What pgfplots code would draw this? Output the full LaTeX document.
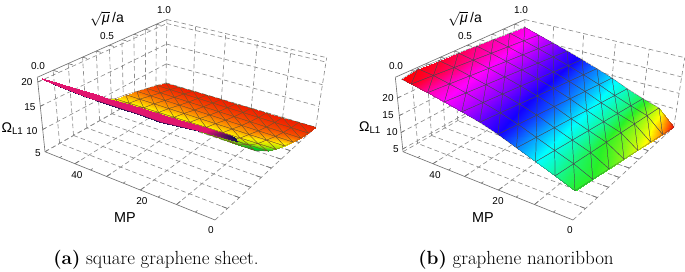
\documentclass[border=0pt]{standalone}
\usepackage{pgfplots}
\usepackage{pgfplotstable}
\usepackage{fontspec}
\pgfplotsset{compat=1.18}
\newfontfamily\hel{Liberation Sans}
\pgfplotsset{
 colormap={hueB}{rgb255(0)=(255,0,0) rgb255(1)=(255,255,0) rgb255(2)=(40,240,40) rgb255(3)=(0,255,255) rgb255(4)=(20,0,255) rgb255(5)=(255,0,255) rgb255(6)=(255,0,0)},
 colormap={hueA}{rgb255(0)=(240,30,0) rgb255(7)=(250,110,0) rgb255(16)=(255,235,0) rgb255(25)=(170,230,0) rgb255(33)=(0,200,40) rgb255(50)=(0,90,110) rgb255(66)=(15,15,80) rgb255(85)=(225,20,110) rgb255(100)=(225,20,110)},
 colormap={mkA}{rgb255(0)=(120,80,40) rgb255(1)=(120,80,40)},
 colormap={mkB}{rgb255(0)=(70,70,80) rgb255(1)=(70,70,80)},
 dsh/.style={color=black!45,line width=.65pt,dash pattern=on 4.5pt off 3pt,mark=none},
 sol/.style={color=black!55,line width=.65pt,mark=none},
 panel/.style={at={(0,0)},anchor=south west,scale only axis,width=685pt,height=271pt,xmin=0,xmax=685,ymin=0,ymax=271,hide axis,clip=false,point meta min=0,point meta max=1}
}
% perspective projection of the box (mu, MP, Omega) to page position
\newcommand\WW{((\thisrow{O}-\omin)/(\omax-\omin))}
\newcommand\DEN{(1+.27476*\thisrow{mu}+.17217*\thisrow{MP}/50-.07965*\WW)}
\newcommand\PX{\xo+(215+187.44*\thisrow{mu}-162.25*\thisrow{MP}/50-12*\WW)/\DEN}
\newcommand\PY{271-(220-57.72*\thisrow{mu}-42.18*\thisrow{MP}/50-93.37*\WW)/\DEN}
\newcommand\seg[7]{\addplot[#7] table[row sep=\\,x expr=\PX,y expr=\PY]{mu MP O\\#1 #2 #3\\#4 #5 #6\\};}
\newcommand\lab[4]{\node[font=\hel\fontsize{#3}{#3}\selectfont,inner sep=0pt,anchor=center] at (axis cs:#1,#2) {#4};}
% triangle lists: columns j (MP index) and k (mu index)
\newcommand\maketris[3]{% style name, rows-1, cols-1
 \gdef\trisacc{}%
 \foreach \j in {1,...,#2}{\foreach \k in {1,...,#3}{%
  \xdef\trisacc{\unexpanded\expandafter{\trisacc}%
   \the\numexpr(\j-1)*(#3+1)+\k-1\relax\space\the\numexpr\j*(#3+1)+\k-1\relax\space\the\numexpr\j*(#3+1)+\k\relax\noexpand\\%
   \the\numexpr(\j-1)*(#3+1)+\k-1\relax\space\the\numexpr(\j-1)*(#3+1)+\k\relax\space\the\numexpr\j*(#3+1)+\k\relax\noexpand\\}%
 }}%
 \edef\tmp{\noexpand\pgfplotsset{#1/.style={table/row sep=\noexpand\\,patch table={\unexpanded\expandafter{\trisacc}}}}}\tmp
}
\maketris{triB}{10}{7}
\maketris{triA}{10}{8}
\maketris{triS}{10}{2}
\newcommand\boxgrid{%
 \pgfplotsinvokeforeach{.1,.2,.3,.4,.5,.6,.7,.8,.9}{\seg{##1}{50}{\omin}{##1}{50}{\omax}{dsh}\seg{##1}{0}{\omin}{##1}{50}{\omin}{dsh}}
 \pgfplotsinvokeforeach{10,20,30,40}{\seg{1}{##1}{\omin}{1}{##1}{\omax}{dsh}\seg{0}{##1}{\omin}{1}{##1}{\omin}{dsh}}
 \pgfplotsinvokeforeach{5,10,15,20}{\seg{0}{50}{##1}{1}{50}{##1}{dsh}\seg{1}{50}{##1}{1}{0}{##1}{dsh}\seg{0}{50}{##1}{.02}{50}{##1}{sol}}
 \seg{1}{50}{\omax}{1}{0}{\omax}{dsh}
 \seg{1}{0}{\omin}{1}{0}{\omax}{dsh}
 \seg{1}{50}{\omin}{1}{50}{\omax}{dsh}
 \seg{0}{50}{\omin}{1}{50}{\omin}{dsh}
 \seg{1}{50}{\omin}{1}{0}{\omin}{dsh}
 \seg{0}{0}{\omin}{1}{0}{\omin}{dsh}
 \seg{0}{50}{\omax}{1}{50}{\omax}{sol}
 \seg{0}{50}{\omin}{0}{50}{\omax}{sol}
 \seg{0}{0}{\omin}{0}{50}{\omin}{sol}
 \pgfplotsinvokeforeach{10,20,30,40}{\seg{0}{##1}{\omin}{.03}{##1}{\omin}{sol}\seg{.97}{##1}{\omin}{1}{##1}{\omin}{sol}}
 \pgfplotsinvokeforeach{5,15,25,35,45}{\seg{0}{##1}{\omin}{.015}{##1}{\omin}{sol}}
 \pgfplotsinvokeforeach{.1,.2,.3,.4,.5,.6,.7,.8,.9}{\seg{##1}{50}{\omax}{##1}{48.5}{\omax}{sol}\seg{##1}{0}{\omin}{##1}{1.5}{\omin}{sol}}
}
% ---------------- panel (b): mu MP Omega hue
\pgfplotstableread[row sep=\\]{
mu MP O H\\
0 0 12.23 .333\\.143 0 11.08 .33\\.286 0 9.92 .30\\.429 0 8.77 .25\\.571 0 7.62 .19\\.714 0 6.47 .14\\.857 0 5.31 .08\\1 0 4.16 0\\
0 5 14.17 .42\\.143 5 13.42 .389\\.286 5 12.66 .357\\.429 5 11.91 .326\\.571 5 11.16 .294\\.714 5 10.41 .263\\.857 5 9.65 .231\\1 5 8.90 .20\\
0 10 16.00 .5\\.143 10 15.20 .48\\.286 10 14.40 .46\\.429 10 13.60 .44\\.571 10 12.80 .42\\.714 10 12.00 .40\\.857 10 11.20 .38\\1 10 10.40 .36\\
0 15 17.83 .58\\.143 15 17.02 .561\\.286 15 16.20 .543\\.429 15 15.39 .524\\.571 15 14.57 .506\\.714 15 13.76 .487\\.857 15 12.94 .469\\1 15 12.13 .45\\
0 20 19.66 .667\\.143 20 18.88 .646\\.286 20 18.09 .625\\.429 20 17.31 .604\\.571 20 16.52 .583\\.714 20 15.74 .562\\.857 20 14.95 .541\\1 20 14.17 .52\\
0 25 21.17 .72\\.143 25 20.42 .70\\.286 25 19.66 .68\\.429 25 18.91 .66\\.571 25 18.15 .64\\.714 25 17.40 .62\\.857 25 16.64 .60\\1 25 15.89 .58\\
0 30 22.35 .78\\.143 30 21.66 .761\\.286 30 20.97 .743\\.429 30 20.28 .724\\.571 30 19.59 .706\\.714 30 18.90 .687\\.857 30 18.20 .669\\1 30 17.51 .65\\
0 35 23.43 .83\\.143 35 22.80 .811\\.286 35 22.17 .793\\.429 35 21.54 .774\\.571 35 20.91 .756\\.714 35 20.28 .737\\.857 35 19.65 .719\\1 35 19.02 .70\\
0 40 24.40 .88\\.143 40 23.83 .863\\.286 40 23.26 .846\\.429 40 22.69 .829\\.571 40 22.12 .811\\.714 40 21.56 .794\\.857 40 20.99 .777\\1 40 20.42 .76\\
0 45 25.26 .985\\.143 45 24.77 .96\\.286 45 24.27 .93\\.429 45 23.78 .90\\.571 45 23.29 .875\\.714 45 22.79 .855\\.857 45 22.30 .83\\1 45 21.81 .81\\
0 48 25.69 1\\.143 50 25.33 .99\\.286 50 24.98 .975\\.429 50 24.62 .95\\.571 50 24.26 .915\\.714 50 23.91 .89\\.857 50 23.55 .87\\1 50 23.19 .85\\
}\tabB
% ---------------- panel (a): sheet behind the ridge
\pgfplotstableread[row sep=\\]{
mu MP O H\\
.15 0 17.44 .66\\.30 0 12.82 .36\\.44 0 9.94 .33\\.53 0 8.59 .28\\.62 0 7.63 .20\\.72 0 6.60 .11\\.81 0 5.88 .05\\.905 0 5.32 .02\\1 0 5 0\\
.15 5 17.38 .30\\.30 5 12.88 .30\\.44 5 9.93 .30\\.53 5 8.55 .22\\.62 5 7.65 .14\\.72 5 6.65 .08\\.81 5 5.94 .04\\.905 5 5.37 .015\\1 5 5 0\\
.15 10 17.31 .30\\.30 10 12.95 .28\\.44 10 9.91 .25\\.53 10 8.51 .17\\.62 10 7.66 .11\\.72 10 6.69 .07\\.81 10 5.99 .04\\.905 10 5.42 .015\\1 10 5 0\\
.15 15 17.25 .30\\.30 15 13.01 .28\\.44 15 9.90 .25\\.53 15 8.47 .17\\.62 15 7.68 .11\\.72 15 6.74 .07\\.81 15 6.05 .04\\.905 15 5.46 .015\\1 15 5 0\\
.15 20 17.18 .30\\.30 20 13.07 .28\\.44 20 9.88 .25\\.53 20 8.43 .17\\.62 20 7.69 .11\\.72 20 6.79 .07\\.81 20 6.10 .04\\.905 20 5.51 .015\\1 20 5 0\\
.15 25 17.12 .30\\.30 25 13.14 .28\\.44 25 9.87 .25\\.53 25 8.39 .17\\.62 25 7.71 .11\\.72 25 6.84 .07\\.81 25 6.16 .04\\.905 25 5.56 .015\\1 25 5 0\\
.15 30 17.06 .30\\.30 30 13.20 .28\\.44 30 9.85 .25\\.53 30 8.35 .17\\.62 30 7.73 .11\\.72 30 6.88 .07\\.81 30 6.22 .04\\.905 30 5.61 .015\\1 30 5 0\\
.15 35 16.99 .30\\.30 35 13.26 .28\\.44 35 9.84 .25\\.53 35 8.31 .17\\.62 35 7.74 .11\\.72 35 6.93 .07\\.81 35 6.27 .04\\.905 35 5.66 .015\\1 35 5 0\\
.15 40 16.93 .30\\.30 40 13.32 .28\\.44 40 9.82 .25\\.53 40 8.27 .17\\.62 40 7.76 .11\\.72 40 6.98 .07\\.81 40 6.33 .04\\.905 40 5.70 .015\\1 40 5 0\\
.15 45 16.86 .30\\.30 45 13.39 .28\\.44 45 9.81 .25\\.53 45 8.23 .17\\.62 45 7.77 .11\\.72 45 7.02 .07\\.81 45 6.38 .04\\.905 45 5.75 .015\\1 45 5 0\\
.15 50 16.80 .30\\.30 50 13.45 .28\\.44 50 9.79 .25\\.53 50 8.19 .17\\.62 50 7.79 .11\\.72 50 7.07 .07\\.81 50 6.44 .04\\.905 50 5.80 .015\\1 50 5 0\\
}\tabA
% ---------------- panel (a): ridge at small mu
\pgfplotstableread[row sep=\\]{
mu MP O H\\
.146 0 17.44 .66\\.11 0 19.00 .66\\.07 0 20.15 .75\\
.025 5 20.15 .66\\.031 5 20.15 .85\\.066 5 20.17 .88\\
.012 10 20.15 .66\\.019 10 20.15 .85\\.062 10 20.18 .88\\
0 15 20.15 .66\\.009 15 20.16 .85\\.058 15 20.20 .88\\
0 20 20.15 .66\\.008 20 20.16 .85\\.054 20 20.21 .88\\
0 25 20.15 .66\\.0075 25 20.16 .85\\.05 25 20.23 .88\\
0 30 20.15 .66\\.007 30 20.17 .85\\.046 30 20.25 .88\\
0 35 20.15 .66\\.0063 35 20.17 .85\\.042 35 20.26 .88\\
.006 40 20.15 .66\\.011 40 20.17 .85\\.038 40 20.28 .88\\
.012 45 20.23 .66\\.015 45 20.24 .85\\.034 45 20.29 .88\\
.025 50 20.34 .66\\.026 50 20.33 .85\\.03 50 20.31 .88\\
}\tabS
\begin{document}
\begin{tikzpicture}
\path[use as bounding box] (0,0) rectangle (685pt,271pt);
\def\xo{0}\def\omin{5}\def\omax{20.95}
\begin{axis}[panel]
\boxgrid
\addplot[patch,triA,shader=interp,colormap name=hueA,point meta=explicit] table[x expr=\PX,y expr=\PY,meta=H]{\tabA};
\addplot[patch,mesh,triA,line width=.22pt,colormap name=mkA,point meta=explicit] table[x expr=\PX,y expr=\PY,meta=H]{\tabA};
\addplot[patch,triS,shader=interp,colormap name=hueA,point meta=explicit] table[x expr=\PX,y expr=\PY,meta=H]{\tabS};
\lab{38}{205}{10}{0.0}\lab{107}{235}{10}{0.5}\lab{164}{261}{10}{1.0}
\lab{107}{252}{14}{$\sqrt{\hbox{\hel\itshape μ}}$\,/a}
\lab{27}{189}{10}{20}\lab{30}{164}{10}{15}\lab{32}{140}{10}{10}\lab{38}{118}{10}{5}
\lab{12.5}{142}{14}{Ω\textsubscript{L1}}
\lab{125}{53}{14.4}{MP}\lab{77}{96}{10}{40}\lab{142}{70}{10}{20}\lab{211}{41}{10}{0}
\node[font=\fontsize{19}{19}\selectfont,inner sep=0pt] at (axis cs:156,11) {\textbf{(a)} square graphene sheet.};
\end{axis}
\def\xo{358}\def\omin{4.16}\def\omax{25.69}
\begin{axis}[panel]
\boxgrid
\addplot[patch,triB,shader=interp,colormap name=hueB,point meta=explicit] table[x expr=\PX,y expr=\PY,meta=H]{\tabB};
\addplot[patch,mesh,triB,line width=.22pt,colormap name=mkB,point meta=explicit] table[x expr=\PX,y expr=\PY,meta=H]{\tabB};
\lab{396}{205}{10}{0.0}\lab{465}{235}{10}{0.5}\lab{521}{261}{10}{1.0}
\lab{465}{252}{14}{$\sqrt{\hbox{\hel\itshape μ}}$\,/a}
\lab{388}{173}{10}{20}\lab{388}{156}{10}{15}\lab{392}{139}{10}{10}\lab{396}{122}{10}{5}
\lab{370}{143}{14}{Ω\textsubscript{L1}}
\lab{483}{53}{14.4}{MP}\lab{435}{96}{10}{40}\lab{498}{70}{10}{20}\lab{570}{41}{10}{0}
\node[font=\fontsize{19}{19}\selectfont,inner sep=0pt] at (axis cs:516,11) {\textbf{(b)} graphene nanoribbon};
\end{axis}
\end{tikzpicture}
\end{document}
